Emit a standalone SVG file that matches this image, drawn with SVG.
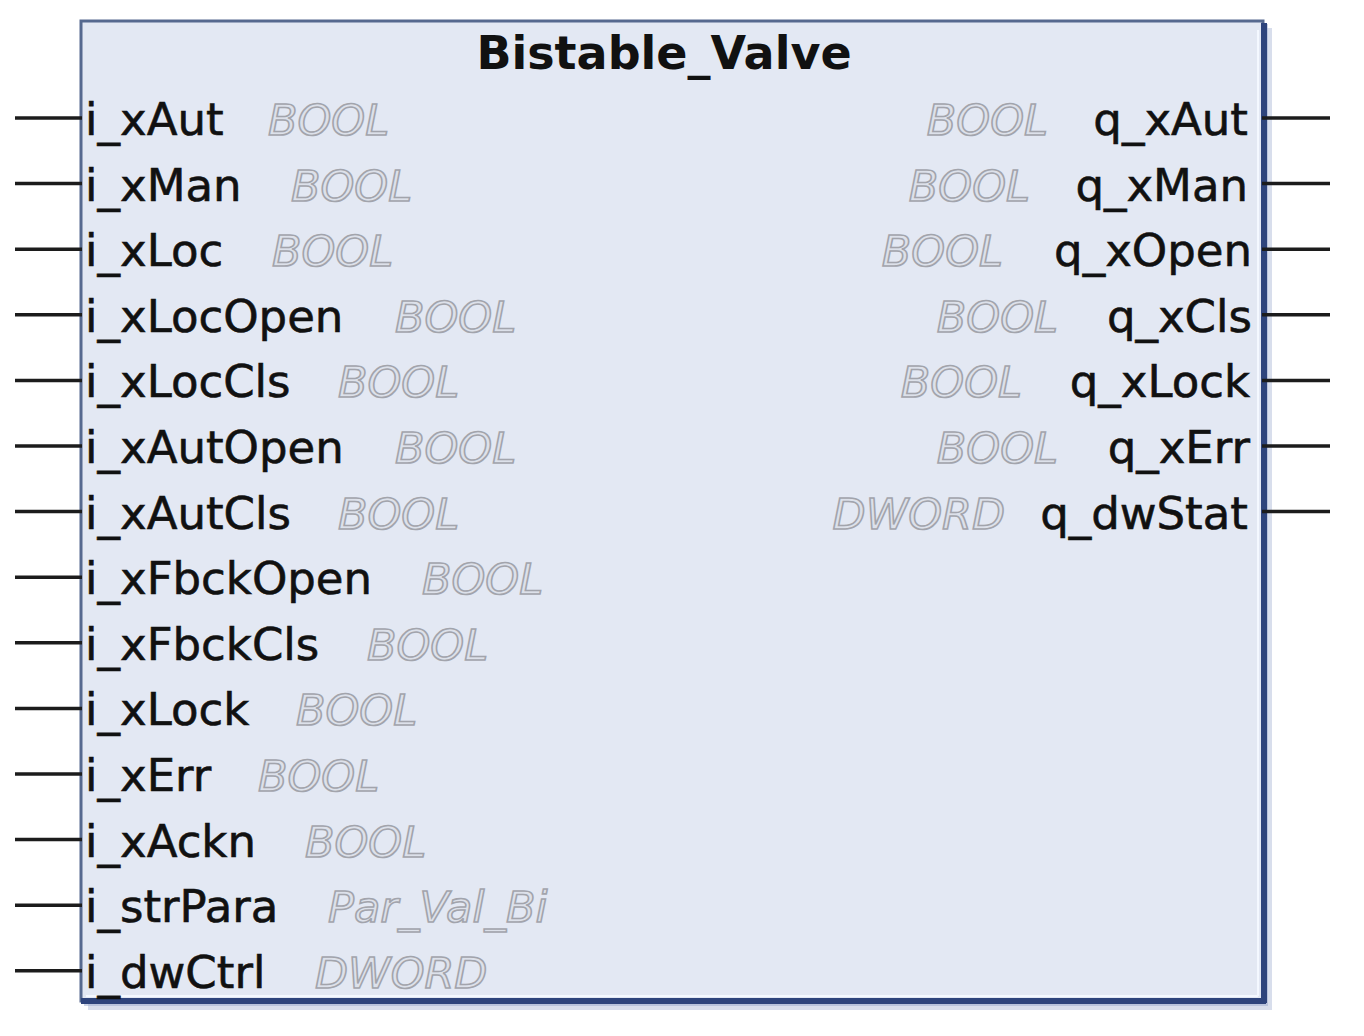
<svg xmlns="http://www.w3.org/2000/svg" width="1364" height="1036" viewBox="0 0 1364 1036">
<style>
.nm{font-family:"DejaVu Sans",Verdana,sans-serif;font-size:45px;fill:#111;stroke:#111;stroke-width:0.6}
.ty{font-family:"DejaVu Sans",Verdana,sans-serif;font-size:43px;font-style:italic;fill:#dde1ea;stroke:#a2a4ac;stroke-width:1.6}
.r{text-anchor:end}
.pin{stroke:#1c1c1c;stroke-width:3.5}
.ttl{font-family:"DejaVu Sans",Verdana,sans-serif;font-size:46px;font-weight:bold;fill:#111;text-anchor:middle}
</style>
<rect width="1364" height="1036" fill="#ffffff"/>
<g id="block">
<rect x="88" y="28" width="1184" height="982" fill="#b8c2dc" opacity="0.55"/>
<rect x="84" y="24" width="1184" height="982" fill="#9aa8cc" opacity="0.5"/>
<rect x="81" y="21" width="1182" height="980" fill="#e3e8f3" stroke="#56698f" stroke-width="3"/>
<line x1="1264" y1="23" x2="1264" y2="1003" stroke="#2e447c" stroke-width="6"/>
<line x1="81" y1="1001" x2="1266" y2="1001" stroke="#2e447c" stroke-width="6"/>
<line x1="1258" y1="30" x2="1258" y2="996" stroke="#f4f8ff" stroke-width="2"/>
<line x1="86" y1="996" x2="1258" y2="996" stroke="#f4f8ff" stroke-width="2"/>
<text class="ttl" x="664" y="69">Bistable_Valve</text>
</g>
<g id="connectors">
<line class="pin" x1="15" y1="118" x2="82" y2="118"/>
<line class="pin" x1="15" y1="183.6" x2="82" y2="183.6"/>
<line class="pin" x1="15" y1="249.2" x2="82" y2="249.2"/>
<line class="pin" x1="15" y1="314.8" x2="82" y2="314.8"/>
<line class="pin" x1="15" y1="380.4" x2="82" y2="380.4"/>
<line class="pin" x1="15" y1="446" x2="82" y2="446"/>
<line class="pin" x1="15" y1="511.6" x2="82" y2="511.6"/>
<line class="pin" x1="15" y1="577.2" x2="82" y2="577.2"/>
<line class="pin" x1="15" y1="642.8" x2="82" y2="642.8"/>
<line class="pin" x1="15" y1="708.4" x2="82" y2="708.4"/>
<line class="pin" x1="15" y1="774" x2="82" y2="774"/>
<line class="pin" x1="15" y1="839.6" x2="82" y2="839.6"/>
<line class="pin" x1="15" y1="905.2" x2="82" y2="905.2"/>
<line class="pin" x1="15" y1="970.8" x2="82" y2="970.8"/>
<line class="pin" x1="1262" y1="118" x2="1330" y2="118"/>
<line class="pin" x1="1262" y1="183.6" x2="1330" y2="183.6"/>
<line class="pin" x1="1262" y1="249.2" x2="1330" y2="249.2"/>
<line class="pin" x1="1262" y1="314.8" x2="1330" y2="314.8"/>
<line class="pin" x1="1262" y1="380.4" x2="1330" y2="380.4"/>
<line class="pin" x1="1262" y1="446" x2="1330" y2="446"/>
<line class="pin" x1="1262" y1="511.6" x2="1330" y2="511.6"/>
</g>
<g id="inputs">
<text class="nm" x="85" y="135">i_xAut</text><text class="ty" x="268" y="135">BOOL</text>
<text class="nm" x="85" y="201">i_xMan</text><text class="ty" x="291" y="201">BOOL</text>
<text class="nm" x="85" y="266">i_xLoc</text><text class="ty" x="272" y="266">BOOL</text>
<text class="nm" x="85" y="332">i_xLocOpen</text><text class="ty" x="395" y="332">BOOL</text>
<text class="nm" x="85" y="397">i_xLocCls</text><text class="ty" x="338" y="397">BOOL</text>
<text class="nm" x="85" y="463">i_xAutOpen</text><text class="ty" x="395" y="463">BOOL</text>
<text class="nm" x="85" y="529">i_xAutCls</text><text class="ty" x="338" y="529">BOOL</text>
<text class="nm" x="85" y="594">i_xFbckOpen</text><text class="ty" x="422" y="594">BOOL</text>
<text class="nm" x="85" y="660">i_xFbckCls</text><text class="ty" x="367" y="660">BOOL</text>
<text class="nm" x="85" y="725">i_xLock</text><text class="ty" x="296" y="725">BOOL</text>
<text class="nm" x="85" y="791">i_xErr</text><text class="ty" x="258" y="791">BOOL</text>
<text class="nm" x="85" y="857">i_xAckn</text><text class="ty" x="305" y="857">BOOL</text>
<text class="nm" x="85" y="922">i_strPara</text><text class="ty" x="328" y="922">Par_Val_Bi</text>
<text class="nm" x="85" y="988">i_dwCtrl</text><text class="ty" x="315" y="988">DWORD</text>
</g>
<g id="outputs">
<text class="nm r" x="1248" y="135">q_xAut</text><text class="ty r" x="1048" y="135">BOOL</text>
<text class="nm r" x="1248" y="201">q_xMan</text><text class="ty r" x="1030" y="201">BOOL</text>
<text class="nm r" x="1252" y="266">q_xOpen</text><text class="ty r" x="1003" y="266">BOOL</text>
<text class="nm r" x="1252" y="332">q_xCls</text><text class="ty r" x="1058" y="332">BOOL</text>
<text class="nm r" x="1250" y="397">q_xLock</text><text class="ty r" x="1022" y="397">BOOL</text>
<text class="nm r" x="1250" y="463">q_xErr</text><text class="ty r" x="1058" y="463">BOOL</text>
<text class="nm r" x="1248" y="529">q_dwStat</text><text class="ty r" x="1005" y="529">DWORD</text>
</g>
</svg>
